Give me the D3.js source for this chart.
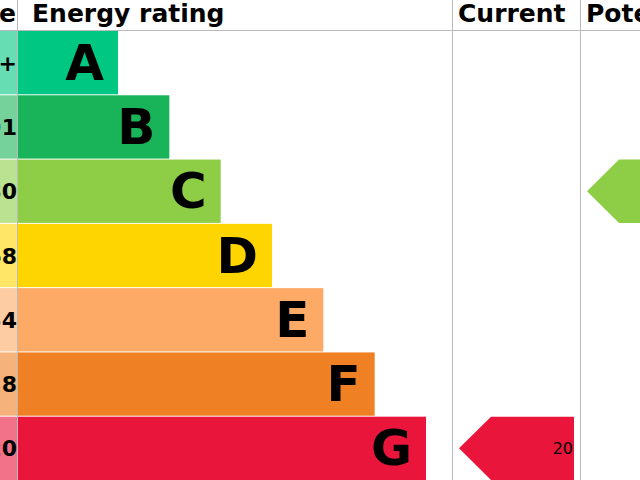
<!DOCTYPE html><html><head><script src="https://d3js.org/d3.v7.min.js"></script>
<style>body{margin:0;background:#fff}text{font-family:"DejaVu Sans",sans-serif}</style></head><body><svg id="c" width="640" height="480"></svg>
<script>
const bands=["A","B","C","D","E","F","G"];
const scoreLabels=["92+","81-91","69-80","55-68","39-54","21-38","1-20"];
const colors=["#00c781","#19b459","#8dce46","#ffd500","#fcaa65","#ef8023","#e9153b"];
const currentScore=20, currentBand="G";
const potentialScore=72, potentialBand="C";
const svg=d3.select("#c");
const y=d3.scaleBand().domain(bands).range([31,480]).paddingInner(0.015);
const w=d3.scaleLinear().domain([0,6]).range([100,408]);
const x0=18;
svg.append("line").attr("x1",0).attr("x2",640).attr("y1",30.5).attr("y2",30.5).attr("stroke","#bbb");
[17.5,452.5,580.5].forEach(v=>svg.append("line").attr("x1",v).attr("x2",v).attr("y1",0).attr("y2",480).attr("stroke","#bbb"));
const hdr=[["Score",16,"end"],["Energy rating",32,"start"],["Current",458,"start"],["Potential",586,"start"]];
hdr.forEach(h=>svg.append("text").attr("x",h[1]).attr("y",22).attr("text-anchor",h[2]).attr("font-size",25).attr("font-weight","bold").text(h[0]));
bands.forEach((b,i)=>{
  svg.append("rect").attr("x",0).attr("y",y(b)).attr("width",17).attr("height",y.bandwidth()).attr("fill",colors[i]).attr("opacity",0.6);
  svg.append("text").attr("x",17).attr("y",y(b)+y.bandwidth()/2+8).attr("text-anchor","end").attr("font-size",22).attr("font-weight","bold").text(scoreLabels[i]);
  const bw=w(i);
  svg.append("rect").attr("x",x0).attr("y",y(b)).attr("width",bw).attr("height",y.bandwidth()).attr("fill",colors[i]);
  svg.append("text").attr("x",x0+bw-14).attr("y",y(b)+y.bandwidth()/2+17).attr("text-anchor","end").attr("font-size",50).attr("font-weight","bold").text(b);
});
function arrow(x,xe,band,val){
  const i=bands.indexOf(band),t=y(band),h=y.bandwidth();
  svg.append("path").attr("d",`M${x},${t+h/2}L${x+32},${t}L${xe},${t}L${xe},${t+h}L${x+32},${t+h}Z`).attr("fill",colors[i]);
  svg.append("text").attr("x",xe-1).attr("y",t+h/2+6).attr("text-anchor","end").attr("font-size",16).text(val);
}
arrow(459,574,currentBand,currentScore);
arrow(587,702,potentialBand,potentialScore);
</script></body></html>
